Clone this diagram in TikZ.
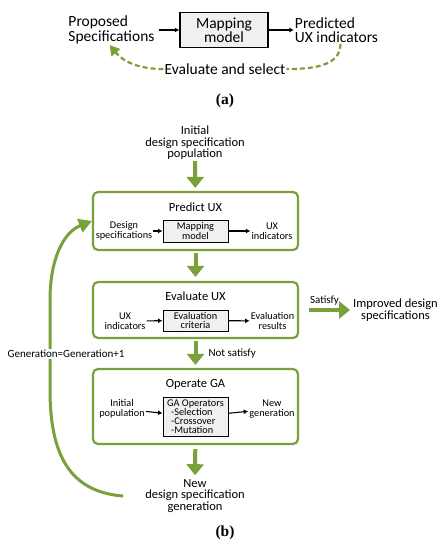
\documentclass[tikz,border=0pt]{standalone}
\usepackage{fontspec}
\setmainfont{Carlito}
\newfontfamily\capfont{Liberation Serif}
\usetikzlibrary{arrows.meta}
\definecolor{uxgreen}{RGB}{122,160,60}
\definecolor{boxgray}{RGB}{240,240,240}

\begin{document}
\begin{tikzpicture}[x=1pt, y=1pt,
    big/.style={font=\fontsize{15.5}{14.5}\selectfont, align=left, inner sep=1pt},
    lbl/.style={font=\fontsize{12.5}{11.5}\selectfont, align=center, inner sep=1pt},
    txt/.style={font=\fontsize{10.3}{9.8}\selectfont, align=center, inner sep=1pt},
    small/.style={font=\fontsize{11}{11}\selectfont, inner sep=1pt},
    stage/.style={draw=uxgreen, line width=2.2pt, rounded corners=5pt, minimum width=205pt},
    inbox/.style={txt, draw, fill=boxgray, line width=1pt, minimum width=65pt},
    blk/.style={-{Latex[length=4.5pt,width=5pt]}, line width=1.1pt},
    garrow/.style={uxgreen, line width=4pt, -{Triangle[length=11pt,width=17pt]}},
    gdash/.style={uxgreen, line width=2.2pt, dash pattern=on 5pt off 3pt},
    captext/.style={font=\capfont\bfseries\fontsize{15.5}{15.5}\selectfont}]
    \useasboundingbox (0,0) rectangle (447,-550);

    % (a)
    \node[big] (spec) at (111.5,-30) {Proposed\\Specifications};
    \node[big, draw, fill=boxgray, line width=1.3pt, minimum width=88pt, minimum height=35pt, align=center] (map) at (224,-30) {Mapping\\model};
    \node[big] (pred) at (336.5,-30) {Predicted\\UX indicators};
    \node[big, fill=white] (sel) at (225,-69) {Evaluate and select};
    \node[captext] (capa) at (225,-101) {(a)};

    \draw[blk, shorten <=3pt] (spec.east) -- (map.west);
    \draw[blk] (map.east) -- (pred.west);
    \draw[gdash] ([xshift=4pt]pred.south) to[out=-90, in=0] (sel.east);
    \draw[gdash, -{Triangle[length=10pt,width=11pt]}] (sel.west) to[out=180, in=-50] ([xshift=-2pt]spec.south);

    % (b)
    \node[lbl] (init) at (195,-143) {Initial\\design specification\\population};

    \node[stage, minimum height=58pt] (predict) at (195.5,-221) {};
    \node[lbl] (predictT) at (195.5,-207) {Predict UX};
    \node[inbox, minimum height=22pt] (mapb) at (195.5,-231) {Mapping\\model};
    \node[txt] (dspec) at (124,-231) {Design\\specifications};
    \node[txt] (uxpred) at (272,-231) {UX\\indicators};
    \draw[blk] (dspec) -- (mapb);
    \draw[blk] (mapb) -- (uxpred);

    \node[stage, minimum height=56pt] (evaluate) at (195.5,-310) {};
    \node[lbl] (evaluateT) at (195.5,-296) {Evaluate UX};
    \node[inbox, minimum height=21pt] (crit) at (195.5,-320.5) {Evaluation\\criteria};
    \node[txt] (uxeval) at (125,-321) {UX\\indicators};
    \node[txt] (res) at (272.5,-321) {Evaluation\\results};
    \draw[blk] (uxeval) -- (crit);
    \draw[blk] (crit) -- (res);

    \node[stage, minimum height=75pt] (operate) at (195.5,-406.5) {};
    \node[lbl] (operateT) at (195.5,-384) {Operate GA};
    \node[inbox, minimum height=39pt, align=left, font=\fontsize{10.3}{8.8}\selectfont] (gaop) at (195.5,-416.5) {GA Operators\\\hspace{4pt}-Selection\\\hspace{4pt}-Crossover\\\hspace{4pt}-Mutation};
    \node[txt] (initpop) at (122,-409) {Initial\\population};
    \node[txt] (newgenb) at (272,-409) {New\\generation};
    \draw[blk] (initpop) -- (gaop);
    \draw[blk] (gaop) -- (newgenb);

    \node[lbl] (newgen) at (195,-496) {New\\design specification\\generation};
    \node[lbl] (improved) at (395.5,-310) {Improved design\\specifications};

    \draw[garrow, shorten >=3pt] (init) -- (predict);
    \draw[garrow, shorten <=2pt, shorten >=4pt] (predict) -- (evaluate);
    \draw[garrow, shorten <=2pt, shorten >=3pt] (evaluate) -- (operate) node[small, midway, right=10pt, text=black] {Not satisfy};
    \draw[garrow, shorten <=4pt, shorten >=3pt] (operate) -- (newgen);
    \draw[garrow, shorten <=10pt, shorten >=2pt] (evaluate) -- (improved) node[small, pos=0.48, above=2pt, text=black] {Satisfy};

    \draw[uxgreen, line width=3pt, -{Triangle[length=13pt,width=14pt]}] ([xshift=-21pt]newgen.west) .. controls (70,-492) and (50,-455) .. (50,-390) -- (50,-300) .. controls (50,-258) and (64,-232) .. (predict.west);
    \node[small, fill=white] (gen) at (66,-354) {Generation=Generation+1};

    \node[captext] (capb) at (225,-533) {(b)};
\end{tikzpicture}
\end{document}
